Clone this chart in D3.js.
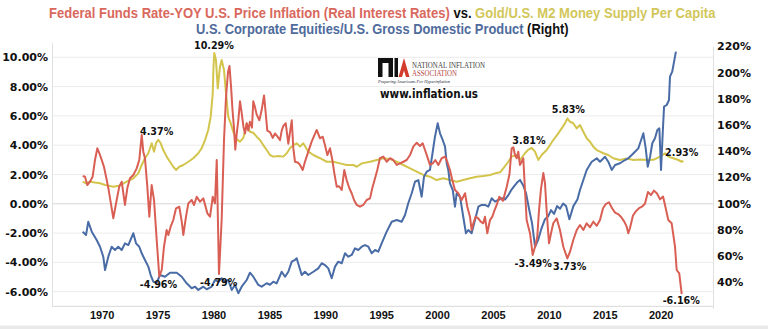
<!DOCTYPE html>
<html><head><meta charset="utf-8">
<script src="https://cdn.jsdelivr.net/npm/d3@7"></script>
<style>body{margin:0;background:#fff}svg{display:block}</style>
</head><body><svg id="c" width="768" height="329"></svg>
<script>
// ---- DATA ----
const realRate = [[1968.30,1.90],[1968.51,1.85],[1968.71,1.28],[1968.95,1.51],[1969.19,1.85],[1969.40,2.99],[1969.61,3.79],[1969.79,3.45],[1970.00,3.00],[1970.21,2.50],[1970.43,1.70],[1970.61,1.00],[1970.74,0.40],[1971.04,-0.99],[1971.34,0.26],[1971.57,1.17],[1971.79,1.51],[1972.08,-0.08],[1972.29,1.06],[1972.53,1.74],[1972.83,1.97],[1973.13,2.42],[1973.36,2.99],[1973.58,4.70],[1973.72,3.56],[1973.87,3.11],[1974.08,1.17],[1974.26,-0.88],[1974.47,1.28],[1974.68,0.26],[1974.92,-2.47],[1975.15,-4.96],[1975.37,-4.52],[1975.57,-2.93],[1975.81,-1.79],[1975.96,-2.13],[1976.17,-1.56],[1976.40,-1.11],[1976.65,-0.31],[1976.94,-0.20],[1977.16,-1.22],[1977.30,-2.13],[1977.54,-0.88],[1977.75,0.03],[1978.05,0.26],[1978.26,-0.08],[1978.50,0.48],[1978.79,0.14],[1979.09,0.37],[1979.45,-0.65],[1979.69,-0.88],[1979.93,0.48],[1980.13,0.03],[1980.29,2.99],[1980.49,-4.79],[1980.73,-1.11],[1980.94,4.35],[1981.12,7.31],[1981.30,9.00],[1981.43,9.40],[1981.57,8.00],[1981.70,6.40],[1981.83,5.20],[1981.95,3.70],[1982.08,4.80],[1982.22,5.70],[1982.37,7.00],[1982.52,6.20],[1982.67,5.30],[1982.82,4.80],[1982.97,5.50],[1983.11,5.00],[1983.26,5.60],[1983.44,5.20],[1983.56,7.00],[1983.71,6.60],[1983.86,6.10],[1984.10,5.70],[1984.31,6.40],[1984.52,7.40],[1984.67,6.20],[1984.81,5.00],[1985.05,4.90],[1985.30,4.50],[1985.50,4.80],[1985.71,4.60],[1985.95,4.35],[1986.10,5.00],[1986.24,5.30],[1986.46,5.50],[1986.69,4.10],[1987.00,5.70],[1987.14,3.80],[1987.29,2.87],[1987.58,2.80],[1987.74,2.65],[1987.98,2.31],[1988.18,2.87],[1988.48,3.56],[1988.78,4.24],[1989.23,5.04],[1989.53,4.47],[1989.77,4.58],[1989.97,4.01],[1990.18,3.33],[1990.42,3.79],[1990.63,2.99],[1990.81,2.08],[1991.02,1.17],[1991.23,1.20],[1991.47,0.94],[1991.70,2.31],[1991.91,1.62],[1992.15,1.06],[1992.36,0.72],[1992.57,0.26],[1992.81,-0.08],[1993.10,-0.20],[1993.40,-0.08],[1993.70,0.26],[1994.00,0.37],[1994.20,1.06],[1994.45,1.74],[1994.65,2.31],[1994.89,3.11],[1995.19,3.22],[1995.49,2.87],[1995.79,3.11],[1996.08,2.99],[1996.39,2.65],[1996.68,2.76],[1996.98,2.87],[1997.28,2.99],[1997.58,3.33],[1997.87,3.90],[1998.18,4.17],[1998.47,3.95],[1998.71,4.13],[1998.92,3.67],[1999.12,3.22],[1999.36,2.65],[1999.61,2.76],[1999.84,2.99],[2000.11,2.65],[2000.41,3.11],[2000.71,3.22],[2000.91,2.87],[2001.15,2.31],[2001.36,1.62],[2001.60,0.94],[2001.90,0.72],[2002.20,0.26],[2002.50,0.72],[2002.70,-0.20],[2002.94,-0.88],[2003.09,-1.79],[2003.24,-1.33],[2003.45,-0.88],[2003.68,-0.99],[2003.90,-1.22],[2004.13,-1.33],[2004.28,-0.88],[2004.49,-2.01],[2004.73,-1.11],[2004.94,-0.88],[2005.09,-0.54],[2005.33,-0.08],[2005.56,0.48],[2005.89,0.20],[2006.23,1.17],[2006.47,2.00],[2006.67,3.79],[2006.82,3.86],[2006.97,3.33],[2007.12,3.11],[2007.26,3.56],[2007.41,2.65],[2007.57,2.87],[2007.71,3.11],[2007.86,0.94],[2008.01,-1.11],[2008.17,-1.60],[2008.31,-2.01],[2008.55,-3.49],[2008.76,-2.93],[2008.96,-2.25],[2009.11,-0.50],[2009.29,1.00],[2009.50,2.10],[2009.65,1.40],[2009.80,-0.50],[2010.01,-2.70],[2010.19,-2.01],[2010.39,-1.33],[2010.70,-1.00],[2010.99,-1.79],[2011.29,-2.93],[2011.65,-3.73],[2011.89,-3.27],[2012.18,-2.47],[2012.49,-1.79],[2012.78,-1.45],[2013.08,-1.79],[2013.38,-1.33],[2013.68,-1.60],[2013.97,-1.22],[2014.28,-1.50],[2014.57,-1.10],[2014.84,-0.30],[2015.11,0.00],[2015.38,0.10],[2015.65,-0.30],[2015.92,-0.60],[2016.19,-0.70],[2016.46,-0.90],[2016.73,-1.20],[2016.96,-1.56],[2017.10,-2.01],[2017.25,-1.67],[2017.52,-0.80],[2017.79,-0.50],[2018.06,-0.30],[2018.32,-0.20],[2018.59,0.00],[2018.86,0.80],[2019.13,0.60],[2019.40,0.90],[2019.67,0.70],[2019.94,0.30],[2020.21,0.50],[2020.39,-0.10],[2020.68,-1.11],[2020.98,-1.33],[2021.28,-2.93],[2021.43,-4.52],[2021.66,-4.75],[2021.88,-6.16]];

const goldM2 = [[1968.30,1.51],[1968.60,1.40],[1968.95,1.51],[1969.40,1.45],[1969.85,1.40],[1970.30,1.28],[1970.74,1.21],[1971.04,1.17],[1971.64,1.25],[1972.24,1.51],[1972.83,1.74],[1973.27,2.08],[1973.58,2.65],[1973.87,3.11],[1974.17,3.45],[1974.47,4.13],[1974.68,3.56],[1974.86,4.13],[1975.06,4.37],[1975.28,4.13],[1975.51,3.67],[1975.81,3.22],[1976.11,2.87],[1976.40,2.53],[1976.65,2.31],[1976.94,2.53],[1977.30,2.65],[1977.75,2.87],[1978.19,3.11],[1978.64,3.45],[1978.94,3.79],[1979.24,4.35],[1979.53,5.04],[1979.75,5.95],[1979.93,7.50],[1980.00,9.36],[1980.07,10.29],[1980.22,9.82],[1980.38,7.88],[1980.58,9.36],[1980.73,9.82],[1980.94,9.13],[1981.12,7.54],[1981.32,5.95],[1981.54,5.49],[1981.77,4.90],[1982.08,4.40],[1982.37,4.24],[1982.67,4.50],[1982.97,5.49],[1983.26,4.92],[1983.56,4.85],[1983.86,4.58],[1984.16,4.35],[1984.45,4.01],[1984.76,3.67],[1985.05,3.33],[1985.35,3.22],[1985.80,3.26],[1986.24,3.22],[1986.55,3.45],[1986.84,3.79],[1987.14,4.01],[1987.44,4.13],[1987.74,3.90],[1988.03,4.13],[1988.48,3.56],[1988.93,3.33],[1989.53,3.11],[1990.13,2.87],[1990.72,2.87],[1991.32,2.76],[1991.91,2.65],[1992.50,2.65],[1992.81,2.53],[1993.26,2.76],[1994.00,2.87],[1994.60,2.99],[1995.19,3.11],[1995.79,3.05],[1996.39,2.87],[1996.98,2.65],[1997.58,2.42],[1998.18,2.19],[1998.77,1.97],[1999.36,1.85],[1999.96,1.62],[2000.55,1.74],[2001.15,1.62],[2001.75,1.51],[2002.34,1.62],[2002.94,1.74],[2003.54,1.85],[2004.13,1.90],[2004.73,1.97],[2005.18,2.08],[2005.63,2.15],[2005.92,2.42],[2006.37,2.87],[2006.67,3.22],[2007.12,3.33],[2007.41,2.99],[2007.86,3.45],[2008.16,3.70],[2008.46,3.81],[2008.76,3.56],[2009.05,2.99],[2009.35,3.33],[2009.80,3.67],[2010.10,4.01],[2010.39,4.35],[2010.84,4.81],[2011.14,5.15],[2011.44,5.49],[2011.65,5.83],[2011.89,5.60],[2012.18,5.50],[2012.49,5.15],[2012.78,5.38],[2013.08,4.92],[2013.38,4.47],[2013.68,4.24],[2013.97,3.90],[2014.28,3.67],[2014.57,3.56],[2014.87,3.45],[2015.31,3.33],[2015.76,3.11],[2016.35,2.99],[2016.96,3.10],[2017.55,2.99],[2018.15,3.03],[2018.75,2.99],[2019.34,3.00],[2019.94,3.22],[2020.39,3.45],[2020.68,3.22],[2021.13,3.11],[2021.58,2.99],[2021.88,2.87],[2022.03,2.93]];

const equitiesGdp = [[1968.30,78.5],[1968.60,76.0],[1968.80,86.1],[1969.11,78.5],[1969.55,72.1],[1969.85,67.0],[1970.14,59.4],[1970.30,49.2],[1970.59,59.4],[1970.89,67.0],[1971.19,64.5],[1971.48,67.0],[1971.79,64.5],[1972.08,69.6],[1972.38,68.3],[1972.83,77.3],[1973.07,69.6],[1973.36,67.0],[1973.58,62.0],[1973.87,56.9],[1974.17,51.8],[1974.38,45.4],[1974.62,40.3],[1974.92,39.5],[1975.21,45.4],[1975.66,44.1],[1976.11,47.2],[1976.71,47.2],[1977.16,44.1],[1977.60,39.1],[1978.05,35.3],[1978.35,36.5],[1978.64,34.0],[1979.09,36.5],[1979.39,34.5],[1979.84,36.5],[1980.13,41.6],[1980.43,40.3],[1980.73,42.9],[1981.03,40.3],[1981.32,41.6],[1981.63,34.0],[1981.92,37.8],[1982.22,31.5],[1982.52,36.5],[1982.97,41.6],[1983.26,47.2],[1983.56,44.1],[1984.01,37.8],[1984.31,36.5],[1984.76,39.1],[1985.05,38.0],[1985.35,40.3],[1985.65,39.0],[1986.10,47.9],[1986.40,44.1],[1986.69,47.9],[1987.00,55.6],[1987.29,56.9],[1987.44,58.2],[1987.89,45.4],[1988.18,47.9],[1988.48,45.4],[1988.93,47.9],[1989.37,50.5],[1989.68,54.4],[1989.97,53.0],[1990.27,50.5],[1990.57,42.9],[1990.87,51.8],[1991.16,55.6],[1991.47,54.4],[1991.76,62.0],[1992.06,59.4],[1992.36,60.7],[1992.66,65.8],[1992.95,64.5],[1993.26,67.0],[1993.55,68.3],[1993.85,67.0],[1994.15,62.0],[1994.45,64.5],[1994.74,63.2],[1995.04,69.6],[1995.49,78.5],[1995.94,86.1],[1996.39,87.4],[1996.83,86.1],[1997.13,91.2],[1997.42,100.2],[1997.73,107.8],[1998.02,116.6],[1998.32,117.9],[1998.62,105.2],[1998.83,120.5],[1999.07,124.3],[1999.36,125.6],[1999.61,139.5],[1999.81,151.0],[2000.05,161.2],[2000.26,153.6],[2000.50,148.5],[2000.71,143.4],[2000.86,130.7],[2001.00,125.6],[2001.15,115.4],[2001.40,110.3],[2001.60,97.6],[2001.75,107.8],[2002.05,105.2],[2002.34,89.9],[2002.58,77.3],[2002.79,79.8],[2003.09,77.3],[2003.39,87.4],[2003.69,97.6],[2003.99,98.9],[2004.28,98.9],[2004.58,97.6],[2004.88,104.0],[2005.18,101.4],[2005.47,102.7],[2005.81,104.0],[2006.07,103.0],[2006.34,106.0],[2006.61,110.0],[2006.88,113.0],[2007.15,116.0],[2007.42,118.0],[2007.69,114.0],[2007.95,108.0],[2008.22,96.0],[2008.49,85.0],[2008.76,67.0],[2009.03,72.0],[2009.30,80.0],[2009.65,88.0],[2009.92,90.0],[2010.19,95.0],[2010.46,92.0],[2010.73,98.0],[2011.00,96.0],[2011.27,100.0],[2011.54,98.0],[2011.83,88.0],[2012.19,98.0],[2012.55,103.0],[2012.78,110.3],[2013.08,117.9],[2013.38,125.6],[2013.83,131.9],[2014.28,134.5],[2014.57,131.9],[2015.02,135.7],[2015.31,131.9],[2015.62,125.6],[2015.92,129.4],[2016.36,130.7],[2016.81,133.2],[2017.10,134.5],[2017.41,137.0],[2017.70,139.5],[2018.00,142.1],[2018.15,146.0],[2018.45,153.6],[2018.66,142.1],[2018.84,128.1],[2019.05,135.7],[2019.25,146.0],[2019.49,149.8],[2019.70,156.1],[2019.88,157.4],[2020.03,125.6],[2020.18,153.6],[2020.30,173.9],[2020.54,175.2],[2020.74,179.0],[2020.83,196.8],[2021.03,200.6],[2021.36,215.9]];

const xTicks = [1970,1975,1980,1985,1990,1995,2000,2005,2010,2015,2020];
const leftTicks = [-6,-4,-2,0,2,4,6,8,10];
const rightTicks = [40,60,80,100,120,140,160,180,200,220];
// label text, year, left-axis value of label centre
const labels = [["10.29%",1980.04,10.77],["4.37%",1974.92,4.92],["-4.96%",1975.08,-5.54],["-4.79%",1980.47,-5.39],["3.81%",2008.22,4.35],["5.83%",2011.74,6.45],["2.93%",2021.88,3.49],["-3.49%",2008.60,-4.06],["3.73%",2011.86,-4.29],["-6.16%",2021.84,-6.63]];

// ---- CHART ----
const RED="#d95f54", YEL="#d3c54c", BLUE="#4a6ca6";
const svg = d3.select("#c");
const L=52, R=713, T=42.65, B=306.35;
const x = d3.scaleLinear().domain([1970,2020]).range([101.7,660.7]);
const yL = d3.scaleLinear().domain([-7,11]).range([B,T]);
const yR = d3.scaleLinear().domain([20,220]).range([308.3,46.3]);

svg.append("rect").attr("x",0).attr("y",325.5).attr("width",768).attr("height",3.5).attr("fill","#e9e9e9");

// grid
svg.append("g").selectAll("line").data(leftTicks).join("line")
  .attr("x1",L).attr("x2",R).attr("y1",d=>yL(d)).attr("y2",d=>yL(d))
  .attr("stroke",d=>d===0?"#d6d6d6":"#ececec").attr("stroke-width",1);
svg.append("line").attr("x1",L).attr("x2",R).attr("y1",B).attr("y2",B).attr("stroke","#d9d9d9");

const axL = svg.append("g").attr("transform",`translate(${L},0)`)
  .call(d3.axisLeft(yL).tickValues(leftTicks).tickSize(0).tickPadding(4).tickFormat(d=>d.toFixed(2)+"%"));
const axR = svg.append("g").attr("transform",`translate(${R},0)`)
  .call(d3.axisRight(yR).tickValues(rightTicks).tickSize(0).tickPadding(4).tickFormat(d=>d+"%"));
const axB = svg.append("g").attr("transform",`translate(0,${B})`)
  .call(d3.axisBottom(x).tickValues(xTicks).tickSize(0).tickPadding(5).tickFormat(d3.format("d")));
[axL,axR].forEach(a=>{a.select(".domain").attr("stroke","#e0e0e0");
  a.selectAll("text").attr("font-family","DejaVu Sans").attr("font-weight","bold").attr("font-size","11px").attr("fill","#111");});
axB.select(".domain").remove();
axB.selectAll("text").attr("font-family","Liberation Sans").attr("font-weight","bold").attr("font-size","11px").attr("fill","#111");

// lines
const lineL = d3.line().x(d=>x(d[0])).y(d=>yL(d[1]));
const lineR = d3.line().x(d=>x(d[0])).y(d=>yR(d[1]));
svg.append("path").datum(goldM2).attr("d",lineL).attr("fill","none").attr("stroke",YEL).attr("stroke-width",2).attr("stroke-linejoin","round");
svg.append("path").datum(equitiesGdp).attr("d",lineR).attr("fill","none").attr("stroke",BLUE).attr("stroke-width",2).attr("stroke-linejoin","round");
svg.append("path").datum(realRate).attr("d",lineL).attr("fill","none").attr("stroke",RED).attr("stroke-width",2).attr("stroke-linejoin","round");

// annotations
svg.append("g").selectAll("text").data(labels).join("text")
  .attr("x",d=>x(d[1])).attr("y",d=>yL(d[2])).attr("dy","0.36em")
  .attr("text-anchor","middle").attr("font-family","DejaVu Sans").attr("font-weight","bold")
  .attr("font-size","9.6px").attr("fill","#111").text(d=>d[0]);

// title
function titleLine(y, parts, x0, x1){
  const t = svg.append("text").attr("y",y).attr("font-family","Liberation Sans").attr("font-weight","bold").attr("font-size","14px");
  parts.forEach(p=>t.append("tspan").attr("fill",p[1]).text(p[0]));
  const w = t.node().getComputedTextLength();
  const s = (x1-x0)/w;
  t.attr("transform",`translate(${x0},0) scale(${s},1)`);
}
titleLine(18,[["Federal Funds Rate-YOY U.S. Price Inflation (Real Interest Rates) ","#d9685d"],["vs. ","#111"],["Gold/U.S. M2 Money Supply Per Capita","#d2c75a"]],49,716);
titleLine(34,[["U.S. Corporate Equities/U.S. Gross Domestic Product ","#4f6b9c"],["(Right)","#111"]],196,569);

// logo
const lg = svg.append("g");
lg.append("path").attr("d","M378,58 H393 V77 H388.5 V63 H382.5 V77 H378 Z").attr("fill","#111");
lg.append("rect").attr("x",394.5).attr("y",58).attr("width",3.5).attr("height",19).attr("fill","#111");
lg.append("path").attr("d","M398.5,77 L404,58 L409.5,77 Z M402,77 L404,70.5 L406,77 Z").attr("fill","#d33b2c").attr("fill-rule","evenodd");
lg.append("text").attr("x",412).attr("y",67.5).attr("font-family","Liberation Serif").attr("font-size","7.5px").attr("fill","#444").attr("textLength",73).attr("lengthAdjust","spacingAndGlyphs").text("NATIONAL INFLATION");
lg.append("text").attr("x",412).attr("y",76).attr("font-family","Liberation Serif").attr("font-size","7.5px").attr("fill","#b5473f").attr("textLength",45).attr("lengthAdjust","spacingAndGlyphs").text("ASSOCIATION");
lg.append("text").attr("x",378).attr("y",83).attr("font-family","Liberation Serif").attr("font-style","italic").attr("font-size","5px").attr("fill","#223").attr("textLength",72).attr("lengthAdjust","spacingAndGlyphs").text("Preparing Americans For Hyperinflation");
lg.append("text").attr("x",380).attr("y",97.5).attr("font-family","DejaVu Sans").attr("font-weight","bold").attr("font-size","12px").attr("fill","#111").attr("textLength",98).attr("lengthAdjust","spacingAndGlyphs").text("www.inflation.us");
</script></body></html>
